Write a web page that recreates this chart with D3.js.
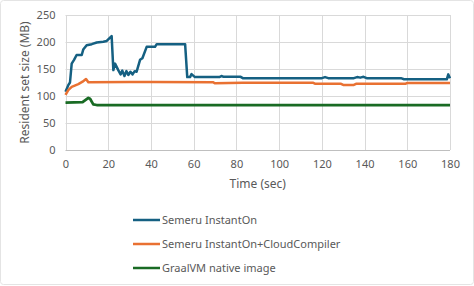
<!DOCTYPE html>
<html>
<head>
<meta charset="utf-8">
<script src="https://cdn.jsdelivr.net/npm/d3@7"></script>
<style>
  body { margin: 0; background: #fff; }
  text { font-family: "Noto Sans", sans-serif; }
</style>
</head>
<body>
<div id="chart"></div>
<script>
// values (time in sec, RSS in MB)
var semeruT = [0, 1.3, 2.1, 2.9, 4, 5.2, 7.6, 8.3, 9.9, 12.3, 14.6, 17.7, 19.3, 21.6, 22.4, 23.2, 24.7, 25.8, 26.6, 27.6, 28.5, 29.4, 30.4, 31.4, 32.4, 33.3, 34.9, 36, 38, 41.9, 42.7, 56, 57, 58.3, 59, 60.6, 72, 73, 74, 82, 83, 120, 121.5, 123, 135, 136.5, 138, 139.5, 141, 157, 158.5, 178.5, 179.2, 180];
var semeruV = [108, 120, 125, 160, 167, 176, 176, 186, 194, 196, 199, 200.5, 202, 211, 148, 160, 148, 140, 147, 137, 146, 139, 145, 140, 146, 145, 167, 170, 191, 191, 196, 196, 135, 135, 140.5, 135, 135, 137, 135.5, 135.5, 133, 133, 135, 133, 133, 135, 134, 135.5, 133, 133, 131, 131, 140, 133];
var cloudT = [0, 1.3, 2.9, 6, 8, 9.6, 10.7, 30, 40, 69, 70, 83, 116, 117, 129, 130, 135, 136, 159, 160, 180];
var cloudV = [102, 111, 117, 122, 126.5, 131.5, 125.3, 126, 126, 125.5, 123.5, 124.5, 124.5, 122.5, 122.5, 120.5, 120.5, 122.5, 122.5, 124, 124];
var graalT = [0, 8, 10.7, 11.5, 13, 14.6, 180];
var graalV = [87.6, 88.5, 96.5, 95, 84.6, 83.3, 83.3];

var seriesNames = ["Semeru InstantOn", "Semeru InstantOn+CloudCompiler", "GraalVM native image"];
var seriesColors = ["#156082", "#E97132", "#196B24"];
var xTicks = [0, 20, 40, 60, 80, 100, 120, 140, 160, 180];
var yTicks = [0, 50, 100, 150, 200, 250];

var width = 474, height = 286;
var margin = {left: 65.5, right: 24, top: 15, bottom: 136};

var svg = d3.select("#chart").append("svg")
    .attr("width", width)
    .attr("height", height);

// outer chart frame
svg.append("rect")
    .attr("x", 0.5).attr("y", 0.5)
    .attr("width", width - 1).attr("height", height - 2)
    .attr("rx", 3)
    .attr("fill", "#fff")
    .attr("stroke", "#e4e4e4");

var x = d3.scaleLinear().domain([0, 180]).range([margin.left, width - margin.right]);
var y = d3.scaleLinear().domain([0, 250]).range([height - margin.bottom, margin.top]);

// gridlines
var grid = svg.append("g");
grid.selectAll(".hg").data(yTicks).enter().append("line")
    .attr("x1", x(0)).attr("x2", x(180))
    .attr("y1", function(d){ return Math.round(y(d)) + 0.5; })
    .attr("y2", function(d){ return Math.round(y(d)) + 0.5; })
    .attr("stroke", function(d){ return d === 0 ? "#bfbfbf" : "#d9d9d9"; });
grid.selectAll(".vg").data(xTicks).enter().append("line")
    .attr("x1", function(d){ return Math.round(x(d)) + 0.5; })
    .attr("x2", function(d){ return Math.round(x(d)) + 0.5; })
    .attr("y1", y(250)).attr("y2", y(0))
    .attr("stroke", "#d9d9d9");

// axes (labels only, lines are the grid)
var xAxis = svg.append("g")
    .attr("transform", "translate(0," + (y(0) + 4) + ")")
    .call(d3.axisBottom(x).tickValues(xTicks).tickSize(0).tickPadding(6));
var yAxis = svg.append("g")
    .attr("transform", "translate(" + (x(0) - 10) + ",0)")
    .call(d3.axisLeft(y).tickValues(yTicks).tickSize(0).tickPadding(0));
[xAxis, yAxis].forEach(function(a){
    a.select(".domain").remove();
    a.selectAll("text")
        .attr("fill", "#595959")
        .style("font-family", "Noto Sans, sans-serif")
        .style("font-size", "11px");
});

// axis titles
svg.append("text")
    .attr("x", (x(0) + x(180)) / 2)
    .attr("y", 188)
    .attr("text-anchor", "middle")
    .attr("fill", "#595959")
    .style("font-size", "12px")
    .text("Time (sec)");
svg.append("text")
    .attr("transform", "translate(29," + ((y(0) + y(250)) / 2) + ") rotate(-90)")
    .attr("text-anchor", "middle")
    .attr("fill", "#595959")
    .style("font-size", "12px")
    .text("Resident set size (MB)");

// lines
var line = d3.line()
    .x(function(d){ return x(d[0]); })
    .y(function(d){ return y(d[1]); });
var series = [
    d3.zip(semeruT, semeruV),
    d3.zip(cloudT, cloudV),
    d3.zip(graalT, graalV)
];
svg.append("g").selectAll("path")
    .data(series).enter().append("path")
    .attr("d", line)
    .attr("fill", "none")
    .attr("stroke", function(d, i){ return seriesColors[i]; })
    .attr("stroke-width", function(d, i){ return i === 2 ? 2.75 : 2.5; })
    .attr("stroke-linejoin", "round");

// legend
var legend = svg.append("g");
var rows = legend.selectAll("g").data(seriesNames).enter().append("g")
    .attr("transform", function(d, i){ return "translate(133," + (220 + i * 24) + ")"; });
rows.append("line")
    .attr("x1", 0).attr("x2", 27)
    .attr("stroke", function(d, i){ return seriesColors[i]; })
    .attr("stroke-width", 2.5);
rows.append("text")
    .attr("x", 29)
    .attr("dy", "0.35em")
    .attr("fill", "#595959")
    .style("font-size", "11px")
    .text(function(d){ return d; });
</script>
</body>
</html>
